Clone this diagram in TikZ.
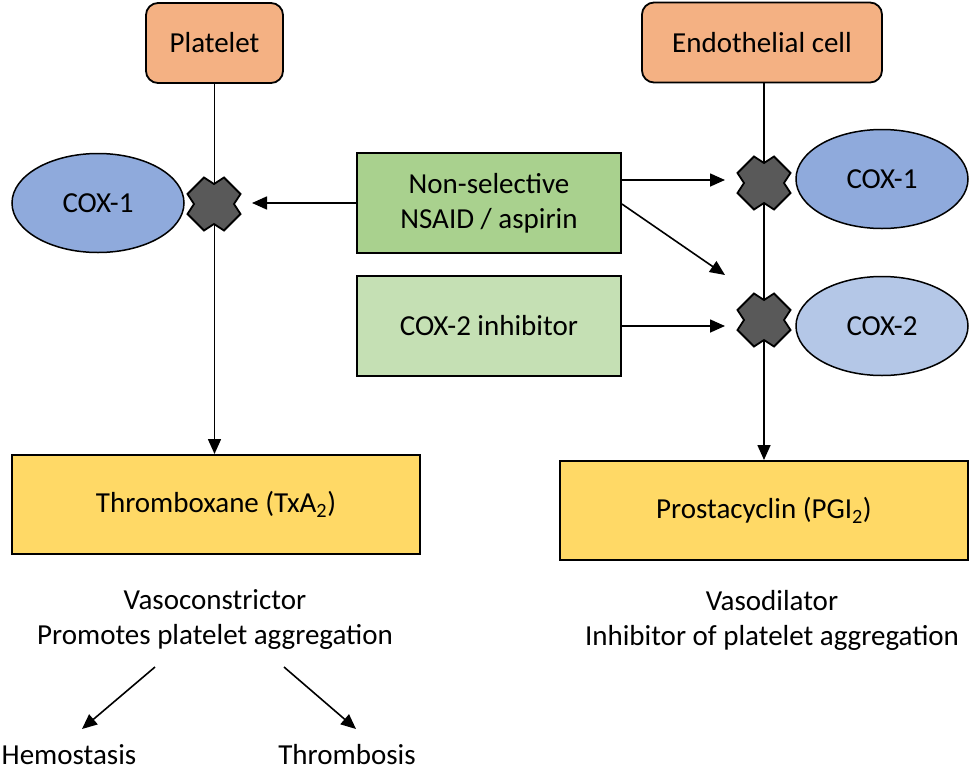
\documentclass[tikz,border=0pt]{standalone}
\usepackage{fontspec}
\setmainfont{Carlito}
\usetikzlibrary{shapes.geometric,arrows.meta}
\definecolor{cellfill}{HTML}{F4B183}
\definecolor{coxone}{HTML}{8FAADC}
\definecolor{coxtwo}{HTML}{B4C7E7}
\definecolor{prodfill}{HTML}{FFD966}
\definecolor{nsaidfill}{HTML}{A9D18E}
\definecolor{inhfill}{HTML}{C5E0B4}
\definecolor{xgray}{HTML}{595959}
\newcommand\drawcross[1]{\draw[crossline, shift={(#1.center)}] (-10,-26.5) -- (0,-20) -- (10,-26.5) -- (26.5,-10) -- (20,0) -- (26.5,10) -- (10,26.5) -- (0,20) -- (-10,26.5) -- (-26.5,10) -- (-20,0) -- (-26.5,-10) -- cycle;}
\begin{document}
\begin{tikzpicture}[x=1pt,y=-1pt,
  font=\fontsize{29}{35}\selectfont,
  cellbox/.style={draw, line width=1.8pt, rounded corners=12pt, fill=cellfill, minimum height=80pt, inner sep=0pt},
  coxell/.style={ellipse, draw, line width=1.5pt, minimum width=172pt, minimum height=99pt, inner sep=0pt},
  prodbox/.style={draw, line width=2pt, fill=prodfill, minimum width=408pt, minimum height=99pt, inner sep=0pt},
  drugbox/.style={draw, line width=1.8pt, minimum width=264pt, minimum height=100pt, inner sep=0pt, align=center},
  crosspt/.style={minimum width=54pt, minimum height=53pt, inner sep=0pt},
  crossline/.style={draw=black, line width=1.8pt, fill=xgray, line join=miter},
  conn/.style={line width=1.6pt},
  arr/.style={conn, -{Triangle[length=15pt,width=13pt]}},
  plain/.style={align=center, inner sep=0pt}]
\useasboundingbox (0,0) rectangle (969,774);
\node[cellbox, minimum width=137pt] (plat) at (214.5,43) {Platelet};
\node[cellbox, minimum width=240pt] (endo) at (762,42.5) {Endothelial cell};
\node[coxell, fill=coxone] (lcox1) at (98,203) {COX-1};
\node[coxell, fill=coxone] (rcox1) at (882,179) {COX-1};
\node[coxell, fill=coxtwo] (rcox2) at (882,326) {COX-2};
\node[drugbox, fill=nsaidfill] (nsaid) at (489,203) {Non-selective\\NSAID / aspirin};
\node[drugbox, fill=inhfill] (inh) at (489,326) {COX-2 inhibitor};
\node[prodbox] (thrx) at (216,504.5) {Thromboxane (TxA\textsubscript{2})};
\node[prodbox] (prost) at (764,510.5) {Prostacyclin (PGI\textsubscript{2})};
\node[plain] (vaso) at (215,620) {Vasoconstrictor\\Promotes platelet aggregation};
\node[plain] (vdil) at (772,620) {Vasodilator\\Inhibitor of platelet aggregation};
\node[plain] (hemo) at (69,755) {Hemostasis};
\node[plain] (thromb) at (347,755) {Thrombosis};
% vertical pathways
\draw[arr] (plat.south) -- (plat.south |- thrx.north);
\draw[arr] (prost.north |- endo.south) -- (prost.north);
% crosses
\node[crosspt] (xl) at (214,204) {};
\node[crosspt] (xr1) at (764,183) {};
\node[crosspt] (xr2) at (764,320) {};
\drawcross{xl}
\drawcross{xr1}
\drawcross{xr2}
% drug arrows
\coordinate (tipl) at (252,203);
\coordinate (tipr1) at (725,180);
\coordinate (tipd) at (725,275);
\coordinate (tipr2) at (725,326);
\draw[arr] (nsaid.west) -- (tipl);
\draw[arr] (nsaid.east |- tipr1) -- (tipr1);
\draw[arr] ([yshift=-1pt]nsaid.east) -- (tipd);
\draw[arr] (inh.east) -- (tipr2);
% outcome arrows
\coordinate (hs) at (155,667);
\coordinate (he) at (82,729);
\coordinate (ts) at (284,667);
\coordinate (te) at (356,729);
\draw[arr] (hs) -- (he);
\draw[arr] (ts) -- (te);
\end{tikzpicture}
\end{document}
